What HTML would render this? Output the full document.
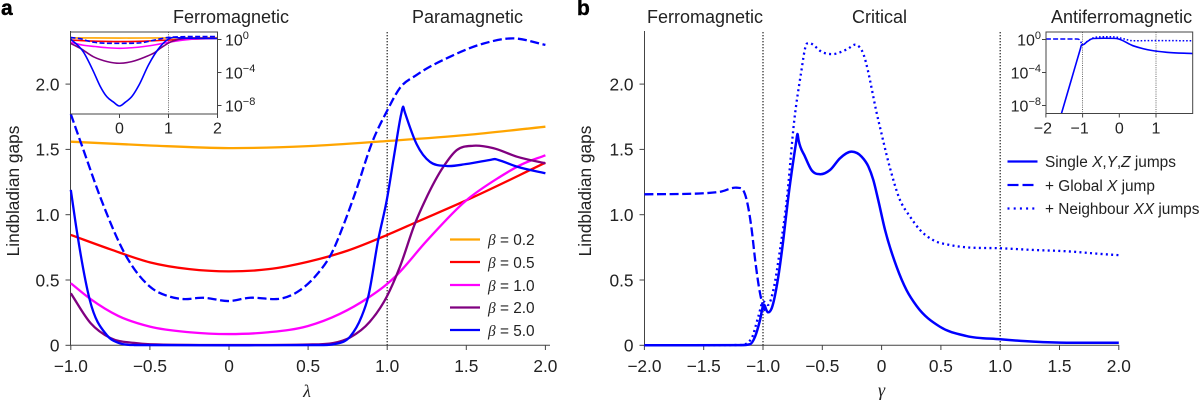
<!DOCTYPE html>
<html lang="en">
<head>
<meta charset="utf-8">
<title>Lindbladian gaps</title>
<style>
html,body{margin:0;padding:0;background:#fff;width:1200px;height:403px;overflow:hidden}
svg{display:block}
text{font-family:"Liberation Sans",sans-serif;fill:#222}
.tick{font-size:17.3px}
.inset{font-size:16px}
.title{font-size:18px}
.leg{font-size:15.4px}
.it{font-style:italic}
.gr{font-family:"Liberation Serif",serif;font-style:italic}
</style>
</head>
<body>
<svg id="chart" width="1200" height="403" viewBox="0 0 1200 403" xmlns="http://www.w3.org/2000/svg">
  <defs>
    <clipPath id="clip-inset-a"><rect x="70.5" y="32" width="147" height="82"/></clipPath>
    <clipPath id="clip-inset-b"><rect x="1046" y="32" width="146.7" height="81.5"/></clipPath>
  </defs>
  <text x="1" y="15" font-size="21" font-weight="bold" style="fill:#000;stroke:#000;stroke-width:.4">a</text>
  <text x="577" y="15" font-size="21" font-weight="bold" style="fill:#000;stroke:#000;stroke-width:.4">b</text>

  <text class="title" x="173" y="23">Ferromagnetic</text>
  <text class="title" x="412" y="23">Paramagnetic</text>
  <text class="title" x="647" y="23">Ferromagnetic</text>
  <text class="title" x="852" y="23">Critical</text>
  <text class="title" x="1051" y="23">Antiferromagnetic</text>

  <text class="tick" transform="translate(19,191) rotate(-90)" text-anchor="middle">Lindbladian gaps</text>
  <text class="tick" transform="translate(591,191) rotate(-90)" text-anchor="middle">Lindbladian gaps</text>
  <text class="gr" x="307" y="397" font-size="18" text-anchor="middle">λ</text>
  <text class="gr" x="881.6" y="396" font-size="18" text-anchor="middle">γ</text>

  <g id="main-a"></g>
  <g id="main-b"></g>
  <g id="inset-a"></g>
  <g id="inset-b"></g>

  <g>
    <g><line x1="450" x2="480" y1="239.5" y2="239.5" stroke="#ffa500" stroke-width="2.2"/><text class="leg" x="488" y="245"><tspan class="gr">β</tspan> = 0.2</text></g>
    <g><line x1="450" x2="480" y1="262" y2="262" stroke="#ff0000" stroke-width="2.2"/><text class="leg" x="488" y="268"><tspan class="gr">β</tspan> = 0.5</text></g>
    <g><line x1="450" x2="480" y1="285" y2="285" stroke="#ff00ff" stroke-width="2.2"/><text class="leg" x="488" y="291"><tspan class="gr">β</tspan> = 1.0</text></g>
    <g><line x1="450" x2="480" y1="307.5" y2="307.5" stroke="#800080" stroke-width="2.2"/><text class="leg" x="488" y="313"><tspan class="gr">β</tspan> = 2.0</text></g>
    <g><line x1="450" x2="480" y1="330" y2="330" stroke="#0000ff" stroke-width="2.2"/><text class="leg" x="488" y="336"><tspan class="gr">β</tspan> = 5.0</text></g>
  </g>
  <g>
    <g><line x1="1007.5" x2="1037.5" y1="161.5" y2="161.5" stroke="#0000ff" stroke-width="2.2"/><text class="leg" x="1045" y="167">Single <tspan class="it">X</tspan>,<tspan class="it">Y</tspan>,<tspan class="it">Z</tspan> jumps</text></g>
    <g><line x1="1007.5" x2="1037.5" y1="185" y2="185" stroke="#0000ff" stroke-width="2.2" stroke-dasharray="11 4"/><text class="leg" x="1045" y="191">+ Global <tspan class="it">X</tspan> jump</text></g>
    <g><line x1="1007.5" x2="1037.5" y1="208.5" y2="208.5" stroke="#0000ff" stroke-width="2.2" stroke-dasharray="2 4.2"/><text class="leg" x="1045" y="214">+ Neighbour <tspan class="it">XX</tspan> jumps</text></g>
  </g>
</svg>
<script>
// ---- Panel a: gap versus lambda ----
const lambda02 = [-1, -0.5, 0, 0.5, 1, 1.5, 2];
const gap02 = [1.559, 1.53, 1.51, 1.525, 1.564, 1.61, 1.674];
const lambda05 = [-1, -0.75, -0.5, -0.25, 0, 0.25, 0.5, 0.75, 1, 1.19, 1.5, 2];
const gap05 = [0.845, 0.735, 0.635, 0.583, 0.566, 0.583, 0.64, 0.725, 0.845, 0.946, 1.11, 1.398];
const lambda10 = [-1, -0.875, -0.7, -0.5, -0.25, 0, 0.25, 0.5, 0.7, 0.88, 1, 1.05, 1.25, 1.5, 1.7, 1.85, 2];
const gap10 = [0.475, 0.354, 0.225, 0.143, 0.1, 0.086, 0.1, 0.148, 0.24, 0.364, 0.47, 0.525, 0.8, 1.11, 1.28, 1.385, 1.455];
const lambda20 = [-1, -0.875, -0.75, -0.6, -0.5, 0, 0.5, 0.66, 0.765, 0.89, 0.997, 1.08, 1.176, 1.24, 1.355, 1.44, 1.545, 1.67, 1.82, 2];
const gap20 = [0.398, 0.17, 0.056, 0.018, 0.008, 0.002, 0.006, 0.018, 0.06, 0.18, 0.372, 0.6, 0.934, 1.11, 1.367, 1.495, 1.528, 1.51, 1.444, 1.393];
const lambda50 = [-1, -0.96, -0.88, -0.773, -0.69, -0.6, 0, 0.6, 0.67, 0.765, 0.838, 0.88, 0.943, 0.997, 1.05, 1.09, 1.1, 1.11, 1.186, 1.27, 1.376, 1.5, 1.66, 1.68, 1.7, 1.82, 2];
const gap50 = [1.19, 0.86, 0.347, 0.079, 0.015, 0.002, 0, 0.002, 0.01, 0.066, 0.22, 0.372, 0.806, 1.11, 1.5, 1.78, 1.827, 1.79, 1.54, 1.405, 1.373, 1.388, 1.422, 1.426, 1.42, 1.368, 1.317];
const lambdaDash = [-1, -0.92, -0.806, -0.648, -0.5, -0.373, -0.29, -0.164, 0, 0.133, 0.3, 0.45, 0.554, 0.649, 0.733, 0.796, 0.91, 0.997, 1.08, 1.186, 1.398, 1.607, 1.797, 2];
const gapDash = [1.77, 1.495, 1.11, 0.678, 0.449, 0.372, 0.354, 0.364, 0.339, 0.364, 0.354, 0.423, 0.54, 0.706, 0.95, 1.16, 1.57, 1.79, 1.97, 2.07, 2.21, 2.31, 2.35, 2.3];

// ---- Panel a inset: log10 of gap versus lambda ----
const inLambda02 = [-1, 0, 1, 2];
const inLog02 = [0.19, 0.18, 0.19, 0.22];
const inLambda05 = [-1, -0.5, 0, 0.5, 1, 1.5, 2];
const inLog05 = [-0.07, -0.2, -0.25, -0.2, -0.07, 0.05, 0.145];
const inLambda10 = [-1, -0.75, -0.5, -0.25, 0, 0.25, 0.5, 0.75, 1, 1.5, 2];
const inLog10 = [-0.32, -0.68, -0.85, -1, -1.07, -1, -0.85, -0.62, -0.33, 0.05, 0.16];
const inLambda20 = [-1, -0.8, -0.53, -0.25, 0, 0.25, 0.53, 0.69, 0.85, 1, 1.2, 1.5, 2];
const inLog20 = [-0.46, -1.07, -2.1, -2.68, -2.88, -2.68, -2.1, -1.68, -1, -0.43, 0, 0.18, 0.14];
const inLambda50 = [-1, -0.74, -0.53, -0.4, -0.26, -0.12, 0, 0.12, 0.25, 0.4, 0.59, 0.83, 1, 1.1, 1.2, 1.5, 2];
const inLog50 = [0.08, -1.48, -3.9, -5.6, -6.93, -7.6, -8.06, -7.6, -6.93, -5.5, -3.1, -0.87, 0.05, 0.26, 0.2, 0.14, 0.12];
const inLambdaDash = [-1, -0.75, -0.65, -0.5, -0.3, 0, 0.3, 0.5, 0.65, 0.8, 1, 1.2, 1.6, 2];
const inLogDash = [0.25, 0.03, -0.17, -0.35, -0.45, -0.47, -0.45, -0.35, -0.15, 0.04, 0.25, 0.32, 0.36, 0.36];

// ---- Panel b: gap versus gamma ----
const gammaSingle = [-2, -1.2, -1.11, -1.067, -1.025, -0.997, -0.96, -0.927, -0.871, -0.829, -0.79, -0.72, -0.71, -0.7, -0.646, -0.59, -0.52, -0.435, -0.35, -0.252, -0.168, -0.112, -0.07, -0.028, 0.029, 0.127, 0.21, 0.296, 0.492, 0.717, 1, 1.28, 1.56, 2];
const gapSingle = [0, 0.001, 0.008, 0.066, 0.194, 0.308, 0.253, 0.283, 0.525, 0.806, 1.11, 1.56, 1.618, 1.57, 1.445, 1.34, 1.31, 1.342, 1.433, 1.483, 1.444, 1.37, 1.266, 1.11, 0.883, 0.6, 0.423, 0.3, 0.142, 0.071, 0.046, 0.028, 0.02, 0.02];
const gammaGlobal = [-2, -1.5, -1.36, -1.222, -1.18, -1.137, -1.095, -1.067, -1.025, -0.988, -0.96];
const gapGlobal = [1.156, 1.164, 1.176, 1.207, 1.2, 1.11, 0.883, 0.66, 0.398, 0.27, 0.253];
const gammaNeighbour = [-2, -1.2, -1.095, -1.04, -1, -0.955, -0.913, -0.857, -0.8, -0.736, -0.68, -0.64, -0.63, -0.49, -0.407, -0.294, -0.21, -0.168, -0.028, 0.07, 0.149, 0.24, 0.324, 0.433, 0.577, 0.717, 1, 1.28, 1.56, 1.84, 2];
const gapNeighbour = [0, 0.002, 0.056, 0.219, 0.334, 0.31, 0.423, 0.73, 1.11, 1.725, 2.08, 2.29, 2.31, 2.24, 2.23, 2.265, 2.3, 2.26, 1.725, 1.36, 1.126, 0.985, 0.883, 0.806, 0.768, 0.75, 0.743, 0.73, 0.72, 0.7, 0.69];

// ---- Panel b inset: log10 of gap versus gamma ----
const inGammaSingle = [-1.575, -1.3, -1.06, -1.03, -0.97, -0.9, -0.71, -0.4, -0.08, 0.37, 0.91, 1.29, 2];
const inLogSingle = [-8.95, -4.77, -1.12, -0.67, -0.6, -0.35, 0.12, 0.15, 0.12, -0.75, -1.35, -1.55, -1.7];
const inGammaGlobal = [-2, -1.5, -1.15, -1.08, -1.03];
const inLogGlobal = [0.06, 0.06, 0.06, -0.05, -0.45];
const inGammaNeighbour = [-0.9, -0.71, -0.5, -0.35, -0.1, 0.1, 0.37, 1, 2];
const inLogNeighbour = [-0.3, 0.2, 0.32, 0.33, 0.3, 0.1, -0.15, -0.13, -0.16];

// ---- Tick labels ----
const yTicks = [0, 0.5, 1, 1.5, 2];
const yTickLabels = ['0', '0.5', '1.0', '1.5', '2.0'];
const xTicksA = [-1, -0.5, 0, 0.5, 1, 1.5, 2];
const xTickLabelsA = ['\u22121.0', '\u22120.5', '0', '0.5', '1.0', '1.5', '2.0'];
const xTicksB = [-2, -1.5, -1, -0.5, 0, 0.5, 1, 1.5, 2];
const xTickLabelsB = ['\u22122.0', '\u22121.5', '\u22121.0', '\u22120.5', '0', '0.5', '1.0', '1.5', '2.0'];
const inXTicksA = [0, 1, 2];
const inXTicksB = [-2, -1, 0, 1];
const inXTickLabelsB = ['\u22122', '\u22121', '0', '1'];
const inYExponents = [0, -4, -8];
const inYExponentLabels = ['0', '\u22124', '\u22128'];
const boundaryA = [1];
const boundaryB = [-1, 1];
const inBoundaryA = [1];
const inBoundaryB = [-1, 1];

// ---- Axis functions ----
const xA = v => 229 + 158.2 * v;
const xB = v => 881.6 + 118.6 * v;
const yMain = v => 345.3 - 130.6 * v;
const xInA = v => 119.5 + 49 * v;
const xInB = v => 1119.3 + 36.7 * v;
const yIn = v => 39.5 - 8.25 * v;

const NS = 'http://www.w3.org/2000/svg';
const AXIS = '#444';

function make(parent, tag, attrs) {
  const el = document.createElementNS(NS, tag);
  for (const k in attrs) el.setAttribute(k, attrs[k]);
  parent.appendChild(el);
  return el;
}

// Smooth cubic path through the data points: three-point tangents, limited to avoid overshoot
function pathFrom(xs, ys, fx, fy) {
  const px = xs.map(fx), py = ys.map(fy), n = px.length;
  const d = [], m = new Array(n);
  for (let i = 0; i < n - 1; i++) d[i] = (py[i + 1] - py[i]) / (px[i + 1] - px[i]);
  m[0] = d[0]; m[n - 1] = d[n - 2];
  for (let i = 1; i < n - 1; i++) {
    const h0 = px[i] - px[i - 1], h1 = px[i + 1] - px[i];
    let t = (h1 * d[i - 1] + h0 * d[i]) / (h0 + h1);
    if (d[i - 1] * d[i] > 0) {
      const lim = 3 * Math.min(Math.abs(d[i - 1]), Math.abs(d[i]));
      if (Math.abs(t) > lim) t = Math.sign(t) * lim;
    } else {
      const lim = Math.min(Math.abs(d[i - 1]), Math.abs(d[i]));
      if (Math.abs(t) > lim) t = Math.sign(t) * lim;
    }
    m[i] = t;
  }
  let s = 'M' + px[0].toFixed(2) + ' ' + py[0].toFixed(2);
  for (let i = 0; i < n - 1; i++) {
    const h = (px[i + 1] - px[i]) / 3;
    s += 'C' + (px[i] + h).toFixed(2) + ' ' + (py[i] + h * m[i]).toFixed(2) + ' ' +
      (px[i + 1] - h).toFixed(2) + ' ' + (py[i + 1] - h * m[i + 1]).toFixed(2) + ' ' +
      px[i + 1].toFixed(2) + ' ' + py[i + 1].toFixed(2);
  }
  return s;
}

function series(parent, name, xs, ys, fx, fy, color, width, dash, clip) {
  const el = make(parent, 'path', {d: pathFrom(xs, ys, fx, fy), fill: 'none', stroke: color, 'stroke-width': width, 'stroke-linejoin': 'round'});
  if (dash) el.setAttribute('stroke-dasharray', dash);
  if (clip) el.setAttribute('clip-path', 'url(#' + clip + ')');
  
  
}

function seg(parent, name, x1, y1, x2, y2, color, width, dash) {
  const el = make(parent, 'line', {x1: x1, y1: y1, x2: x2, y2: y2, stroke: color, 'stroke-width': width});
  if (dash) el.setAttribute('stroke-dasharray', dash);
  
  
}

function label(parent, name, str, x, y, cls, anchor) {
  const el = make(parent, 'text', {x: x, y: y, class: cls, 'text-anchor': anchor});
  el.textContent = str;
  
  
  return el;
}

function mainAxes(g, left, right, fx, xs, xl, bounds) {
  seg(g, 'y-axis-line', left, 31, left, 345.8, AXIS, 1);
  seg(g, 'x-axis-line', left, 345.3, right, 345.3, AXIS, 1);
  yTicks.forEach((v, i) => {
    seg(g, 'y-tick', left - 5, yMain(v), left, yMain(v), AXIS, 1);
    label(g, 'y-tick-label', yTickLabels[i], left - 11, yMain(v) + 6.3, 'tick', 'end');
  });
  xs.forEach((v, i) => {
    seg(g, 'x-tick', fx(v), 345.3, fx(v), 350, AXIS, 1);
    label(g, 'x-tick-label', xl[i], fx(v), 372, 'tick', 'middle');
  });
  bounds.forEach(v => {
    seg(g, 'phase-boundary', fx(v), 32, fx(v), 345, '#333', 1.3, '1.4 1.6');
  });
}

function superLabel(parent, exp, x, y, anchor) {
  const el = make(parent, 'text', {x: x, y: y, class: 'inset', 'text-anchor': anchor});
  
  
  el.appendChild(document.createTextNode('10'));
  const t = make(el, 'tspan', {dy: -6.5, 'font-size': 11});
  t.textContent = exp;
}

// ---- Panel a ----
const gA = document.getElementById('main-a');
mainAxes(gA, 70.5, 550, xA, xTicksA, xTickLabelsA, boundaryA);
series(gA, 'line-beta-0.2', lambda02, gap02, xA, yMain, '#ffa500', 2.3);
series(gA, 'line-beta-0.5', lambda05, gap05, xA, yMain, '#ff0000', 2.3);
series(gA, 'line-beta-1.0', lambda10, gap10, xA, yMain, '#ff00ff', 2.3);
series(gA, 'line-beta-2.0', lambda20, gap20, xA, yMain, '#800080', 2.3);
series(gA, 'line-beta-5.0-dashed', lambdaDash, gapDash, xA, yMain, '#0000ff', 2.3, '9 3.6');
series(gA, 'line-beta-5.0', lambda50, gap50, xA, yMain, '#0000ff', 2.3);

// ---- Panel b ----
const gB = document.getElementById('main-b');
mainAxes(gB, 644.5, 1119.2, xB, xTicksB, xTickLabelsB, boundaryB);
series(gB, 'line-neighbour-xx-jumps', gammaNeighbour, gapNeighbour, xB, yMain, '#0000ff', 2.3, '2 3.3');
series(gB, 'line-global-x-jump', gammaGlobal, gapGlobal, xB, yMain, '#0000ff', 2.3, '9 3.6');
series(gB, 'line-single-jumps', gammaSingle, gapSingle, xB, yMain, '#0000ff', 2.5);

// ---- Inset a ----
const iA = document.getElementById('inset-a');
make(iA, 'rect', {x: 70.5, y: 32, width: 147, height: 82, fill: '#fff'});
inBoundaryA.forEach(v => {
  seg(iA, 'inset-phase-boundary', xInA(v), 32, xInA(v), 114, '#444', 0.8, '1 1.2');
});
series(iA, 'inset-line-beta-0.2', inLambda02, inLog02, xInA, yIn, '#ffa500', 1.6, null, 'clip-inset-a');
series(iA, 'inset-line-beta-0.5', inLambda05, inLog05, xInA, yIn, '#ff0000', 1.6, null, 'clip-inset-a');
series(iA, 'inset-line-beta-1.0', inLambda10, inLog10, xInA, yIn, '#ff00ff', 1.6, null, 'clip-inset-a');
series(iA, 'inset-line-beta-2.0', inLambda20, inLog20, xInA, yIn, '#800080', 1.6, null, 'clip-inset-a');
series(iA, 'inset-line-beta-5.0-dashed', inLambdaDash, inLogDash, xInA, yIn, '#0000ff', 1.6, '5 2.4', 'clip-inset-a');
series(iA, 'inset-line-beta-5.0', inLambda50, inLog50, xInA, yIn, '#0000ff', 1.6, null, 'clip-inset-a');
make(iA, 'rect', {x: 70.5, y: 32, width: 147, height: 82, fill: 'none', stroke: AXIS, 'stroke-width': 1});
inXTicksA.forEach(v => {
  seg(iA, 'inset-x-tick', xInA(v), 114, xInA(v), 118, AXIS, 1);
  label(iA, 'inset-x-tick-label', String(v), xInA(v), 133.5, 'inset', 'middle');
});
inYExponents.forEach((v, i) => {
  seg(iA, 'inset-y-tick', 217.5, yIn(v), 221.5, yIn(v), AXIS, 1);
  superLabel(iA, inYExponentLabels[i], 225, yIn(v) + 6, 'start');
});

// ---- Inset b ----
const iB = document.getElementById('inset-b');
make(iB, 'rect', {x: 1046, y: 32, width: 146.7, height: 81.5, fill: '#fff'});
inBoundaryB.forEach(v => {
  seg(iB, 'inset-phase-boundary', xInB(v), 32, xInB(v), 113.5, '#444', 0.8, '1 1.2');
});
series(iB, 'inset-line-neighbour-xx-jumps', inGammaNeighbour, inLogNeighbour, xInB, yIn, '#0000ff', 1.5, '1.6 1.9', 'clip-inset-b');
series(iB, 'inset-line-global-x-jump', inGammaGlobal, inLogGlobal, xInB, yIn, '#0000ff', 1.5, '5 2.2', 'clip-inset-b');
series(iB, 'inset-line-single-jumps', inGammaSingle, inLogSingle, xInB, yIn, '#0000ff', 1.6, null, 'clip-inset-b');
make(iB, 'rect', {x: 1046, y: 32, width: 146.7, height: 81.5, fill: 'none', stroke: AXIS, 'stroke-width': 1});
inXTicksB.forEach((v, i) => {
  seg(iB, 'inset-x-tick', xInB(v), 113.5, xInB(v), 117.5, AXIS, 1);
  label(iB, 'inset-x-tick-label', inXTickLabelsB[i], xInB(v) - (v < 0 ? 3 : 0), 133.5, 'inset', 'middle');
});
inYExponents.forEach((v, i) => {
  seg(iB, 'inset-y-tick', 1042, yIn(v), 1046, yIn(v), AXIS, 1);
  superLabel(iB, inYExponentLabels[i], 1041, yIn(v) + 6, 'end');
});
</script>
</body>
</html>
